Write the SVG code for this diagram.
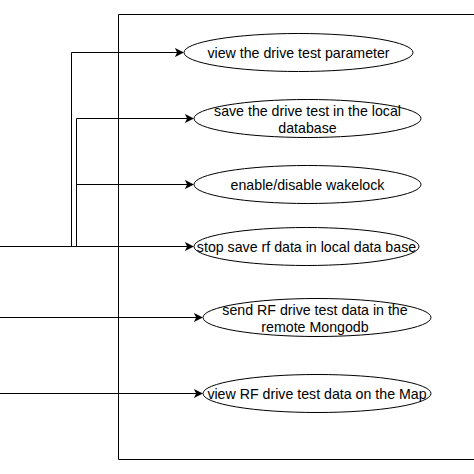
<svg xmlns="http://www.w3.org/2000/svg" width="474" height="474" viewBox="0 0 474 474">
<defs>
<marker id="arr" viewBox="0 0 10 10" refX="9" refY="5" markerWidth="9" markerHeight="9" markerUnits="userSpaceOnUse" orient="auto">
<path d="M0,0 L10,5 L0,10 L2.5,5 Z" fill="#000"/>
</marker>
<style>
.e{fill:#fff;stroke:#000;stroke-width:1}
.t{font-family:"Liberation Sans",Arial,sans-serif;font-size:14.2px;fill:#000;text-anchor:middle;dominant-baseline:central}
.c{fill:none;stroke:#000;stroke-width:1}
</style>
</defs>
<rect width="474" height="474" fill="#fff"/>
<g id="boundary"><path d="M480,14.5 H118.5 V459.5 H480" fill="none" stroke="#000"/></g>
<g id="connectors">
<path class="c" d="M0,246.5 H193" marker-end="url(#arr)"/>
<path class="c" d="M71.5,246.5 V52.5 H183" marker-end="url(#arr)"/>
<path class="c" d="M76.5,246.5 V118.5 H193" marker-end="url(#arr)"/>
<path class="c" d="M76.5,184.5 H193" marker-end="url(#arr)"/>
<path class="c" d="M0,317.5 H202" marker-end="url(#arr)"/>
<path class="c" d="M0,393.5 H202" marker-end="url(#arr)"/>
</g>
<g id="uc1"><ellipse class="e" cx="298.5" cy="52.5" rx="114.5" ry="19"/><text class="t" x="298.5" y="52.5">view the drive test parameter</text></g>
<g id="uc2"><ellipse class="e" cx="307.5" cy="118.5" rx="113.5" ry="19"/><text class="t" x="307.5" y="110.5">save the drive test in the local</text><text class="t" x="307.5" y="127.5">database</text></g>
<g id="uc3"><ellipse class="e" cx="307.5" cy="184.5" rx="113.5" ry="19"/><text class="t" x="307.5" y="184.5">enable/disable wakelock</text></g>
<g id="uc4"><ellipse class="e" cx="306.5" cy="246.5" rx="112.5" ry="19"/><text class="t" x="306.5" y="246.5">stop save rf data in local data base</text></g>
<g id="uc5"><ellipse class="e" cx="317" cy="317.5" rx="114" ry="19"/><text class="t" x="315" y="309.5">send RF drive test data in the</text><text class="t" x="315" y="326.5">remote Mongodb</text></g>
<g id="uc6"><ellipse class="e" cx="317" cy="393.5" rx="114" ry="19"/><text class="t" x="317" y="393.5">view RF drive test data on the Map</text></g>
</svg>
